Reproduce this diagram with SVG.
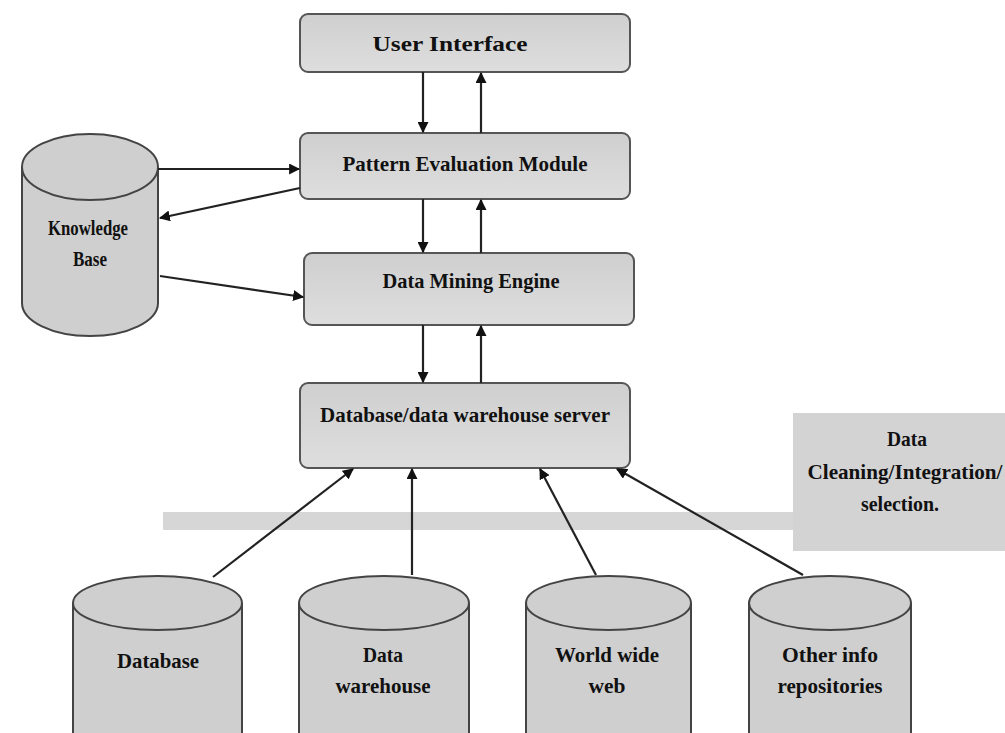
<svg xmlns="http://www.w3.org/2000/svg" width="1005" height="733" viewBox="0 0 1005 733">
<style>
.box{fill:url(#g);stroke:#555;stroke-width:2}
.cyl{fill:#cfcfcf;stroke:#444;stroke-width:2}
.t{font-family:"Liberation Serif",serif;font-weight:bold;font-size:21px;fill:#111;text-anchor:middle}
.c line{stroke:#222;stroke-width:2.2;marker-end:url(#a)}
</style>
<defs>
<linearGradient id="g" x1="0" y1="0" x2="0" y2="1"><stop offset="0" stop-color="#cfcfcf"/><stop offset="1" stop-color="#dedede"/></linearGradient>
<marker id="a" viewBox="0 0 10 10" refX="9" refY="5" markerWidth="5" markerHeight="5" orient="auto"><path d="M0,0L10,5L0,10z" fill="#111"/></marker>
</defs>
<rect width="1005" height="733" fill="#fff"/>
<rect x="163" y="512" width="632" height="18" fill="#d6d6d6"/>
<g id="cleaning"><rect x="793" y="413" width="212" height="138" fill="#d3d3d3"/>
<text class="t" x="907" y="446" textLength="40" lengthAdjust="spacingAndGlyphs">Data</text><text class="t" x="905" y="479" textLength="195" lengthAdjust="spacingAndGlyphs">Cleaning/Integration/</text><text class="t" x="900" y="511" textLength="78" lengthAdjust="spacingAndGlyphs">selection.</text></g>
<g id="ui"><rect class="box" x="300" y="14" width="330" height="58" rx="8"/><text class="t" x="450" y="51" textLength="155" lengthAdjust="spacingAndGlyphs">User Interface</text></g>
<g id="pem"><rect class="box" x="300" y="133" width="330" height="66" rx="8"/><text class="t" x="465" y="171" textLength="245" lengthAdjust="spacingAndGlyphs">Pattern Evaluation Module</text></g>
<g id="dme"><rect class="box" x="304" y="253" width="330" height="72" rx="8"/><text class="t" x="471" y="288" textLength="177" lengthAdjust="spacingAndGlyphs">Data Mining Engine</text></g>
<g id="dbs"><rect class="box" x="300" y="383" width="330" height="85" rx="8"/><text class="t" x="465" y="422" textLength="290" lengthAdjust="spacingAndGlyphs">Database/data warehouse server</text></g>
<g id="kb"><path class="cyl" d="M22,167 V303 A68,33 0 0 0 158,303 V167 A68,33 0 0 0 22,167 Z"/><path d="M22,167 A68,33 0 0 0 158,167" fill="none" stroke="#444" stroke-width="2"/>
<text class="t" x="88" y="235" textLength="80" lengthAdjust="spacingAndGlyphs">Knowledge</text><text class="t" x="90" y="266" textLength="34" lengthAdjust="spacingAndGlyphs">Base</text></g>
<g id="db"><path class="cyl" d="M73,603 V760 H242 V603 A84.5,27 0 0 0 73,603 Z"/><path d="M73,603 A84.5,27 0 0 0 242,603" fill="none" stroke="#444" stroke-width="2"/><text class="t" x="158" y="668" textLength="82" lengthAdjust="spacingAndGlyphs">Database</text></g>
<g id="dw"><path class="cyl" d="M299,603 V760 H469 V603 A85,27 0 0 0 299,603 Z"/><path d="M299,603 A85,27 0 0 0 469,603" fill="none" stroke="#444" stroke-width="2"/><text class="t" x="383" y="662" textLength="40" lengthAdjust="spacingAndGlyphs">Data</text><text class="t" x="383" y="693" textLength="95" lengthAdjust="spacingAndGlyphs">warehouse</text></g>
<g id="www"><path class="cyl" d="M526,603 V760 H691 V603 A82.5,27 0 0 0 526,603 Z"/><path d="M526,603 A82.5,27 0 0 0 691,603" fill="none" stroke="#444" stroke-width="2"/><text class="t" x="607" y="662" textLength="104" lengthAdjust="spacingAndGlyphs">World wide</text><text class="t" x="607" y="693" textLength="37" lengthAdjust="spacingAndGlyphs">web</text></g>
<g id="other"><path class="cyl" d="M749,603 V760 H911 V603 A81,27 0 0 0 749,603 Z"/><path d="M749,603 A81,27 0 0 0 911,603" fill="none" stroke="#444" stroke-width="2"/><text class="t" x="830" y="662" textLength="96" lengthAdjust="spacingAndGlyphs">Other info</text><text class="t" x="830" y="693" textLength="105" lengthAdjust="spacingAndGlyphs">repositories</text></g>
<g class="c" id="connectors">
<line x1="423" y1="72" x2="423" y2="132"/><line x1="481" y1="133" x2="481" y2="73"/>
<line x1="158" y1="169" x2="299" y2="169"/><line x1="300" y1="188" x2="160" y2="218"/>
<line x1="160" y1="276" x2="303" y2="297"/>
<line x1="423" y1="199" x2="423" y2="252"/><line x1="481" y1="253" x2="481" y2="200"/>
<line x1="423" y1="325" x2="423" y2="382"/><line x1="481" y1="383" x2="481" y2="326"/>
<line x1="213" y1="577" x2="353" y2="469"/><line x1="412" y1="575" x2="412" y2="469"/>
<line x1="596" y1="575" x2="540" y2="469"/><line x1="803" y1="575" x2="617" y2="469"/>
</g>
</svg>
